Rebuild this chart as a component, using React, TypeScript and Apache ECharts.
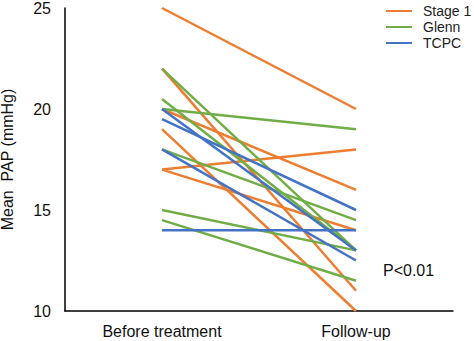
import React, { useEffect, useRef } from "react";
import * as echarts from "echarts";

const categories = ["Before treatment", "Follow-up"];
const stage1 = [[25, 20], [22, 11], [20, 16], [19, 10], [17, 18], [17, 14]];
const glenn = [[22, 13], [20.5, 13], [20, 19], [18, 14.5], [15, 13], [14.5, 11.5]];
const tcpc = [[20, 13], [19.5, 15], [18, 12.5], [14, 14]];
const yTicks = { min: 10, max: 25, interval: 5 };
const groups = [
  { name: "Stage 1", color: "#ED7D31", data: stage1 },
  { name: "Glenn", color: "#70AD47", data: glenn },
  { name: "TCPC", color: "#4472C4", data: tcpc },
];

export default function App() {
  const ref = useRef<HTMLDivElement>(null);
  useEffect(() => {
    const chart = echarts.init(ref.current!, undefined, { renderer: "svg" });
    const font = "Liberation Sans, Arial, sans-serif";
    const series: any[] = [];
    groups.forEach((g) => {
      g.data.forEach((pair) => {
        series.push({
          name: g.name,
          type: "line",
          data: pair,
          symbol: "none",
          lineStyle: { color: g.color, width: 2.5 },
          itemStyle: { color: g.color },
        });
      });
    });
    chart.setOption({
      animation: false,
      textStyle: { fontFamily: font },
      grid: {
        left: 65,
        right: 21,
        top: 8,
        bottom: 30,
        containLabel: false,
        outerBoundsMode: "none",
      },
      legend: {
        data: groups.map((g) => g.name),
        orient: "vertical",
        left: 386,
        top: 4,
        padding: 0,
        itemGap: 2,
        itemWidth: 26,
        itemHeight: 2,
        icon: "rect",
        textStyle: {
          fontSize: 14,
          lineHeight: 14,
          color: "#222",
          fontFamily: font,
          padding: [0, 0, 0, 6],
        },
      },
      xAxis: {
        type: "category",
        data: categories,
        boundaryGap: true,
        axisLine: { lineStyle: { color: "#000", width: 1.5 } },
        axisTick: { show: false },
        axisLabel: { fontSize: 16, lineHeight: 16, color: "#111", margin: 12 },
      },
      yAxis: {
        type: "value",
        min: yTicks.min,
        max: yTicks.max,
        interval: yTicks.interval,
        name: "Mean  PAP (mmHg)",
        nameLocation: "middle",
        nameGap: 50,
        nameTextStyle: { fontSize: 16, color: "#111" },
        axisLine: { show: true, lineStyle: { color: "#000", width: 1.5 } },
        axisTick: { show: false },
        splitLine: { show: false },
        axisLabel: { fontSize: 16, color: "#111", margin: 14 },
      },
      graphic: [
        {
          type: "text",
          left: 383,
          top: 262,
          style: { text: "P<0.01", fontSize: 16, fill: "#111", fontFamily: font },
        },
      ],
      series,
    });
    return () => chart.dispose();
  }, []);
  return (
    <div
      ref={ref}
      style={{ position: "absolute", left: 0, top: 0, width: 474, height: 341 }}
    />
  );
}
